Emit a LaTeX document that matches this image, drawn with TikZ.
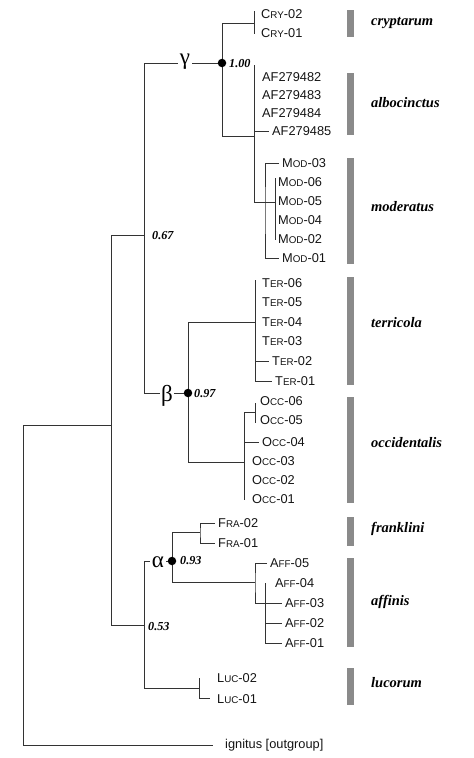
\documentclass[tikz,border=0pt]{standalone}
\usepackage{fontspec}
\setmainfont{Liberation Sans}
\newfontfamily\serifface{Liberation Serif}
\definecolor{linecol}{HTML}{333333}
\definecolor{barcol}{HTML}{8A8A8A}
\newcommand\smc[1]{{\fontsize{9.8}{10}\selectfont #1}}
\tikzset{
  tree/.style={draw=linecol, line width=0.95pt},
  leaf/.style={anchor=west, inner xsep=3pt, inner ysep=0pt, text=black!92, font=\fontsize{12.8}{14}\selectfont},
  spec/.style={anchor=west, inner sep=0pt, font=\serifface\bfseries\itshape\fontsize{14.5}{16}\selectfont},
  boot/.style={anchor=west, inner sep=0pt, font=\serifface\bfseries\itshape\fontsize{12.2}{13}\selectfont},
  greek/.style={anchor=base, fill=white, inner xsep=1.5pt, inner ysep=0pt, font=\serifface\fontsize{23}{24}\selectfont},
  dot/.style={circle, fill=black, inner sep=0pt, minimum size=8.5pt},
  bar/.style={fill=barcol}
}
\begin{document}
\begin{tikzpicture}[x=1pt,y=-1pt]
\useasboundingbox (0,0) rectangle (474,758);
% ---------- leaves ----------
\node[leaf] (cry02) at (258,14) {C\smc{RY}-02};
\node[leaf] (cry01) at (258,33) {C\smc{RY}-01};
\node[leaf] (af82) at (259,77) {AF279482};
\node[leaf] (af83) at (259,95) {AF279483};
\node[leaf] (af84) at (259,113) {AF279484};
\node[leaf] (af85) at (269,131) {AF279485};
\node[leaf] (mod03) at (279,163) {M\smc{OD}-03};
\node[leaf] (mod06) at (275,182) {M\smc{OD}-06};
\node[leaf] (mod05) at (275,201) {M\smc{OD}-05};
\node[leaf] (mod04) at (275,220) {M\smc{OD}-04};
\node[leaf] (mod02) at (275,239) {M\smc{OD}-02};
\node[leaf] (mod01) at (279,258) {M\smc{OD}-01};
\node[leaf] (ter06) at (259,283) {T\smc{ER}-06};
\node[leaf] (ter05) at (259,302) {T\smc{ER}-05};
\node[leaf] (ter04) at (259,322) {T\smc{ER}-04};
\node[leaf] (ter03) at (259,341) {T\smc{ER}-03};
\node[leaf] (ter02) at (269,361) {T\smc{ER}-02};
\node[leaf] (ter01) at (272,381) {T\smc{ER}-01};
\node[leaf] (occ06) at (257,401) {O\smc{CC}-06};
\node[leaf] (occ05) at (257,420) {O\smc{CC}-05};
\node[leaf] (occ04) at (259,442) {O\smc{CC}-04};
\node[leaf] (occ03) at (249,461) {O\smc{CC}-03};
\node[leaf] (occ02) at (249,480) {O\smc{CC}-02};
\node[leaf] (occ01) at (249,499) {O\smc{CC}-01};
\node[leaf] (fra02) at (215,523) {F\smc{RA}-02};
\node[leaf] (fra01) at (215,543) {F\smc{RA}-01};
\node[leaf] (aff05) at (267,563) {A\smc{FF}-05};
\node[leaf] (aff04) at (272,583) {A\smc{FF}-04};
\node[leaf] (aff03) at (282,603) {A\smc{FF}-03};
\node[leaf] (aff02) at (282,623) {A\smc{FF}-02};
\node[leaf] (aff01) at (282,643) {A\smc{FF}-01};
\node[leaf] (luc02) at (214,678) {L\smc{UC}-02};
\node[leaf] (luc01) at (214,699) {L\smc{UC}-01};
\node[leaf] (ign) at (222,745) {ignitus [outgroup]};
% ---------- internal coordinates ----------
\coordinate (root) at (23,425);
\coordinate (og) at (213,745);
\coordinate (A) at (111,425);
\coordinate (B) at (144,235);
\coordinate (C) at (144,625);
\coordinate (Gn) at (222,63);
\coordinate (Bn) at (188,393);
\coordinate (Al) at (172,561);
\coordinate (cry) at (254,23);
\coordinate (cryT) at (254,11);
\coordinate (cryB) at (254,34);
\coordinate (afm) at (254,136);
\coordinate (afT) at (254,65);
\coordinate (modJ) at (254,202);
\coordinate (modN) at (275,202);
\coordinate (modO) at (265,210);
\coordinate (modI1) at (275,178);
\coordinate (modI2) at (275,240);
\coordinate (ter) at (255,322);
\coordinate (terT) at (255,280);
\coordinate (occ) at (244,462);
\coordinate (occT) at (244,412);
\coordinate (occB) at (244,500);
\coordinate (occ65) at (255,412);
\coordinate (occ65T) at (255,403);
\coordinate (occ65B) at (255,423);
\coordinate (fra) at (200,532);
\coordinate (aff) at (255,582);
\coordinate (affI) at (265,583);
\coordinate (luc) at (199,688);
\coordinate (lucT) at (199,678);
\coordinate (lucB) at (210,698);
% ---------- branches ----------
\draw[tree] (root) |- (og);
\draw[tree] (root) -- (A);
\draw[tree] (A) |- (B);
\draw[tree] (A) |- (C);
\draw[tree] (B) |- (Gn);
\draw[tree] (B) |- (Bn);
\draw[tree] (Gn) |- (cry);
\draw[tree] (Gn) |- (afm);
\draw[tree] (cryT) -- (cryB);
\draw[tree] (afT) -- (modJ);
\draw[tree] (af85.west -| afT) -- (af85.west);
\draw[tree] (modJ) -- (modN);
\draw[tree] (mod03.west) -| (modO) |- (mod01.west);
\draw[tree] (modI1) -- (modI2);
\draw[tree] (Bn) |- (ter);
\draw[tree] (Bn) |- (occ);
\draw[tree] (terT) |- (ter01.west);
\draw[tree] (ter02.west -| terT) -- (ter02.west);
\draw[tree] (occT) -- (occB);
\draw[tree] (occT) -- (occ65);
\draw[tree] (occ65T) -- (occ65B);
\draw[tree] (occ04.west -| occT) -- (occ04.west);
\draw[tree] (C) |- (Al);
\draw[tree] (C) |- (luc);
\draw[tree] (lucT) |- (lucB);
\draw[tree] (Al) |- (fra);
\draw[tree] (Al) |- (aff);
\draw[tree] (fra02.west) -| (fra) |- (fra01.west);
\draw[tree] (aff05.west) -| (aff) |- (aff03.west);
\draw[tree] (affI) |- (aff01.west);
\draw[tree] (aff02.west -| affI) -- (aff02.west);
% ---------- node marks ----------
\node[dot] (GnD) at (Gn) {};
\node[dot] (BnD) at (Bn) {};
\node[dot] (AlD) at (Al) {};
\node[greek] (gam) at (185,64) {γ};
\node[greek] (bet) at (167,401) {β};
\node[greek] (alp) at (158,567) {α};
\node[boot] (b100) at (229,64) {1.00};
\node[boot] (b067) at (152,236) {0.67};
\node[boot] (b097) at (194,394) {0.97};
\node[boot] (b093) at (180,561) {0.93};
\node[boot] (b053) at (148,627) {0.53};
% ---------- species bars ----------
\fill[bar] (347,10) rectangle (354,37);
\fill[bar] (347,73) rectangle (354,135);
\fill[bar] (347,158) rectangle (354,264);
\fill[bar] (347,277) rectangle (354,385);
\fill[bar] (347,397) rectangle (354,503);
\fill[bar] (347,517) rectangle (354,546);
\fill[bar] (347,558) rectangle (354,647);
\fill[bar] (347,668) rectangle (354,705);
\node[spec] (s1) at (371,23) {cryptarum};
\node[spec] (s2) at (371,103) {albocinctus};
\node[spec] (s3) at (371,207) {moderatus};
\node[spec] (s4) at (371,323) {terricola};
\node[spec] (s5) at (371,443) {occidentalis};
\node[spec] (s6) at (371,529) {franklini};
\node[spec] (s7) at (371,602) {affinis};
\node[spec] (s8) at (371,683) {lucorum};
\end{tikzpicture}
\end{document}
